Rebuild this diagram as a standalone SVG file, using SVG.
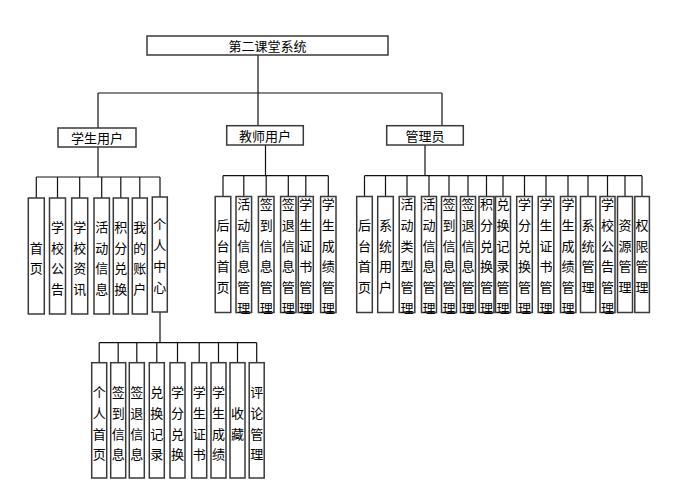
<svg xmlns="http://www.w3.org/2000/svg" width="679" height="489" viewBox="0 0 679 489">
<style>
.b{fill:#fff;stroke:#3a3a3a;stroke-width:1.5}
.t{font-family:"Noto Sans CJK SC","Liberation Sans",sans-serif;font-size:13px;fill:#000;text-anchor:middle;dominant-baseline:central}
.c path{fill:none;stroke:#111;stroke-width:1.2}
</style>
<rect width="679" height="489" fill="#fff"/>
<g class="c" id="connectors">
<path d="M258 55V126M98 93H442M98 93V128M442 93V126"/>
<path d="M98 147V177M36.3 177H160M36.3 177V198M57.5 177V198M79.7 177V198M101.7 177V198M120.8 177V198M139.8 177V198M160 177V197"/>
<path d="M265.5 145V175.7M223 175.7H328.3M223 175.7V196.5M243.8 175.7V196.5M266.2 175.7V196.5M288.3 175.7V196.5M305.8 175.7V196.5M328.3 175.7V196.5"/>
<path d="M425 145V175.7M364.5 175.7H642M364.5 175.7V196.5M385.5 175.7V196.5M407 175.7V196.5M429 175.7V196.5M449 175.7V196.5M468 175.7V196.5M486.5 175.7V196.5M503 175.7V196.5M524.5 175.7V196.5M546 175.7V196.5M568 175.7V196.5M588 175.7V196.5M607.5 175.7V196.5M625 175.7V196.5M642 175.7V196.5"/>
<path d="M160 312V342.7M99.2 342.7H256.7M99.2 342.7V362.7M118.2 342.7V362.7M136.8 342.7V362.7M156.8 342.7V362.7M177.5 342.7V362.7M199.2 342.7V362.7M218.5 342.7V362.7M237.5 342.7V362.7M256.7 342.7V362.7"/>
</g>
<g id="root"><rect class="b" x="147" y="36" width="241" height="19"/><text class="t" x="267.5" y="45.5">第二课堂系统</text></g>
<g id="student"><rect class="b" x="58" y="128" width="78" height="19"/><text class="t" x="97" y="137.5">学生用户</text></g>
<g id="teacher"><rect class="b" x="226.7" y="125.7" width="76.6" height="19.3"/><text class="t" x="265" y="135.3">教师用户</text></g>
<g id="admin"><rect class="b" x="386.7" y="125.7" width="76.6" height="19.3"/><text class="t" x="425" y="135.3">管理员</text></g>

<g id="s1"><rect class="b" x="28.3" y="198" width="16" height="116"/><text class="t"><tspan x="36.3" y="246.6">首</tspan><tspan x="36.3" y="267.4">页</tspan></text></g>
<g id="s2"><rect class="b" x="49.5" y="198" width="16" height="116"/><text class="t"><tspan x="57.5" y="225.8">学</tspan><tspan x="57.5" y="246.6">校</tspan><tspan x="57.5" y="267.4">公</tspan><tspan x="57.5" y="288.2">告</tspan></text></g>
<g id="s3"><rect class="b" x="71.7" y="198" width="16" height="116"/><text class="t"><tspan x="79.7" y="225.8">学</tspan><tspan x="79.7" y="246.6">校</tspan><tspan x="79.7" y="267.4">资</tspan><tspan x="79.7" y="288.2">讯</tspan></text></g>
<g id="s4"><rect class="b" x="94" y="198" width="15.4" height="116"/><text class="t"><tspan x="101.7" y="225.8">活</tspan><tspan x="101.7" y="246.6">动</tspan><tspan x="101.7" y="267.4">信</tspan><tspan x="101.7" y="288.2">息</tspan></text></g>
<g id="s5"><rect class="b" x="113.3" y="198" width="15" height="116"/><text class="t"><tspan x="120.8" y="225.8">积</tspan><tspan x="120.8" y="246.6">分</tspan><tspan x="120.8" y="267.4">兑</tspan><tspan x="120.8" y="288.2">换</tspan></text></g>
<g id="s6"><rect class="b" x="132.3" y="198" width="15" height="116"/><text class="t"><tspan x="139.8" y="225.8">我</tspan><tspan x="139.8" y="246.6">的</tspan><tspan x="139.8" y="267.4">账</tspan><tspan x="139.8" y="288.2">户</tspan></text></g>
<g id="s7"><rect class="b" x="152.3" y="197" width="15" height="115"/><text class="t"><tspan x="159.8" y="223.3">个</tspan><tspan x="159.8" y="244.1">人</tspan><tspan x="159.8" y="264.9">中</tspan><tspan x="159.8" y="285.7">心</tspan></text></g>

<g id="t1"><rect class="b" x="215.2" y="196.5" width="15.6" height="116"/><text class="t"><tspan x="223" y="223.8">后</tspan><tspan x="223" y="244.6">台</tspan><tspan x="223" y="265.4">首</tspan><tspan x="223" y="286.2">页</tspan></text></g>
<g id="t2"><rect class="b" x="236" y="196.5" width="15.6" height="116"/><text class="t"><tspan x="243.8" y="203">活</tspan><tspan x="243.8" y="223.8">动</tspan><tspan x="243.8" y="244.6">信</tspan><tspan x="243.8" y="265.4">息</tspan><tspan x="243.8" y="286.2">管</tspan><tspan x="243.8" y="307">理</tspan></text></g>
<g id="t3"><rect class="b" x="258.4" y="196.5" width="15.6" height="116"/><text class="t"><tspan x="266.2" y="203">签</tspan><tspan x="266.2" y="223.8">到</tspan><tspan x="266.2" y="244.6">信</tspan><tspan x="266.2" y="265.4">息</tspan><tspan x="266.2" y="286.2">管</tspan><tspan x="266.2" y="307">理</tspan></text></g>
<g id="t4"><rect class="b" x="280.6" y="196.5" width="15.4" height="116"/><text class="t"><tspan x="288.3" y="203">签</tspan><tspan x="288.3" y="223.8">退</tspan><tspan x="288.3" y="244.6">信</tspan><tspan x="288.3" y="265.4">息</tspan><tspan x="288.3" y="286.2">管</tspan><tspan x="288.3" y="307">理</tspan></text></g>
<g id="t5"><rect class="b" x="298.3" y="196.5" width="15" height="116"/><text class="t"><tspan x="305.8" y="203">学</tspan><tspan x="305.8" y="223.8">生</tspan><tspan x="305.8" y="244.6">证</tspan><tspan x="305.8" y="265.4">书</tspan><tspan x="305.8" y="286.2">管</tspan><tspan x="305.8" y="307">理</tspan></text></g>
<g id="t6"><rect class="b" x="320.6" y="196.5" width="15.4" height="116"/><text class="t"><tspan x="328.3" y="203">学</tspan><tspan x="328.3" y="223.8">生</tspan><tspan x="328.3" y="244.6">成</tspan><tspan x="328.3" y="265.4">绩</tspan><tspan x="328.3" y="286.2">管</tspan><tspan x="328.3" y="307">理</tspan></text></g>

<g id="a1"><rect class="b" x="356.7" y="196.5" width="15.6" height="116"/><text class="t"><tspan x="364.5" y="223.8">后</tspan><tspan x="364.5" y="244.6">台</tspan><tspan x="364.5" y="265.4">首</tspan><tspan x="364.5" y="286.2">页</tspan></text></g>
<g id="a2"><rect class="b" x="377.7" y="196.5" width="15.6" height="116"/><text class="t"><tspan x="385.5" y="223.8">系</tspan><tspan x="385.5" y="244.6">统</tspan><tspan x="385.5" y="265.4">用</tspan><tspan x="385.5" y="286.2">户</tspan></text></g>
<g id="a3"><rect class="b" x="399.2" y="196.5" width="15.6" height="116"/><text class="t"><tspan x="407" y="203">活</tspan><tspan x="407" y="223.8">动</tspan><tspan x="407" y="244.6">类</tspan><tspan x="407" y="265.4">型</tspan><tspan x="407" y="286.2">管</tspan><tspan x="407" y="307">理</tspan></text></g>
<g id="a4"><rect class="b" x="421.5" y="196.5" width="15" height="116"/><text class="t"><tspan x="429" y="203">活</tspan><tspan x="429" y="223.8">动</tspan><tspan x="429" y="244.6">信</tspan><tspan x="429" y="265.4">息</tspan><tspan x="429" y="286.2">管</tspan><tspan x="429" y="307">理</tspan></text></g>
<g id="a5"><rect class="b" x="441.5" y="196.5" width="15" height="116"/><text class="t"><tspan x="449" y="203">签</tspan><tspan x="449" y="223.8">到</tspan><tspan x="449" y="244.6">信</tspan><tspan x="449" y="265.4">息</tspan><tspan x="449" y="286.2">管</tspan><tspan x="449" y="307">理</tspan></text></g>
<g id="a6"><rect class="b" x="460.5" y="196.5" width="15" height="116"/><text class="t"><tspan x="468" y="203">签</tspan><tspan x="468" y="223.8">退</tspan><tspan x="468" y="244.6">信</tspan><tspan x="468" y="265.4">息</tspan><tspan x="468" y="286.2">管</tspan><tspan x="468" y="307">理</tspan></text></g>
<g id="a7"><rect class="b" x="479" y="196.5" width="15" height="116"/><text class="t"><tspan x="486.5" y="203">积</tspan><tspan x="486.5" y="223.8">分</tspan><tspan x="486.5" y="244.6">兑</tspan><tspan x="486.5" y="265.4">换</tspan><tspan x="486.5" y="286.2">管</tspan><tspan x="486.5" y="307">理</tspan></text></g>
<g id="a8"><rect class="b" x="495.5" y="196.5" width="15" height="116"/><text class="t"><tspan x="503" y="203">兑</tspan><tspan x="503" y="223.8">换</tspan><tspan x="503" y="244.6">记</tspan><tspan x="503" y="265.4">录</tspan><tspan x="503" y="286.2">管</tspan><tspan x="503" y="307">理</tspan></text></g>
<g id="a9"><rect class="b" x="516.7" y="196.5" width="15.6" height="116"/><text class="t"><tspan x="524.5" y="203">学</tspan><tspan x="524.5" y="223.8">分</tspan><tspan x="524.5" y="244.6">兑</tspan><tspan x="524.5" y="265.4">换</tspan><tspan x="524.5" y="286.2">管</tspan><tspan x="524.5" y="307">理</tspan></text></g>
<g id="a10"><rect class="b" x="538.2" y="196.5" width="15.6" height="116"/><text class="t"><tspan x="546" y="203">学</tspan><tspan x="546" y="223.8">生</tspan><tspan x="546" y="244.6">证</tspan><tspan x="546" y="265.4">书</tspan><tspan x="546" y="286.2">管</tspan><tspan x="546" y="307">理</tspan></text></g>
<g id="a11"><rect class="b" x="560.5" y="196.5" width="15.4" height="116"/><text class="t"><tspan x="568" y="203">学</tspan><tspan x="568" y="223.8">生</tspan><tspan x="568" y="244.6">成</tspan><tspan x="568" y="265.4">绩</tspan><tspan x="568" y="286.2">管</tspan><tspan x="568" y="307">理</tspan></text></g>
<g id="a12"><rect class="b" x="580.5" y="196.5" width="15.2" height="116"/><text class="t"><tspan x="588" y="223.8">系</tspan><tspan x="588" y="244.6">统</tspan><tspan x="588" y="265.4">管</tspan><tspan x="588" y="286.2">理</tspan></text></g>
<g id="a13"><rect class="b" x="600" y="196.5" width="15" height="116"/><text class="t"><tspan x="607.5" y="203">学</tspan><tspan x="607.5" y="223.8">校</tspan><tspan x="607.5" y="244.6">公</tspan><tspan x="607.5" y="265.4">告</tspan><tspan x="607.5" y="286.2">管</tspan><tspan x="607.5" y="307">理</tspan></text></g>
<g id="a14"><rect class="b" x="617.5" y="196.5" width="15" height="116"/><text class="t"><tspan x="625" y="223.8">资</tspan><tspan x="625" y="244.6">源</tspan><tspan x="625" y="265.4">管</tspan><tspan x="625" y="286.2">理</tspan></text></g>
<g id="a15"><rect class="b" x="634.8" y="196.5" width="14.6" height="116"/><text class="t"><tspan x="642" y="223.8">权</tspan><tspan x="642" y="244.6">限</tspan><tspan x="642" y="265.4">管</tspan><tspan x="642" y="286.2">理</tspan></text></g>

<g id="p1"><rect class="b" x="91.7" y="362.7" width="15" height="115.3"/><text class="t"><tspan x="99.2" y="391">个</tspan><tspan x="99.2" y="411.8">人</tspan><tspan x="99.2" y="432.6">首</tspan><tspan x="99.2" y="453.4">页</tspan></text></g>
<g id="p2"><rect class="b" x="110.7" y="362.7" width="15" height="115.3"/><text class="t"><tspan x="118.2" y="391">签</tspan><tspan x="118.2" y="411.8">到</tspan><tspan x="118.2" y="432.6">信</tspan><tspan x="118.2" y="453.4">息</tspan></text></g>
<g id="p3"><rect class="b" x="129.3" y="362.7" width="15" height="115.3"/><text class="t"><tspan x="136.8" y="391">签</tspan><tspan x="136.8" y="411.8">退</tspan><tspan x="136.8" y="432.6">信</tspan><tspan x="136.8" y="453.4">息</tspan></text></g>
<g id="p4"><rect class="b" x="149.3" y="362.7" width="15" height="115.3"/><text class="t"><tspan x="156.8" y="391">兑</tspan><tspan x="156.8" y="411.8">换</tspan><tspan x="156.8" y="432.6">记</tspan><tspan x="156.8" y="453.4">录</tspan></text></g>
<g id="p5"><rect class="b" x="170" y="362.7" width="15" height="115.3"/><text class="t"><tspan x="177.5" y="391">学</tspan><tspan x="177.5" y="411.8">分</tspan><tspan x="177.5" y="432.6">兑</tspan><tspan x="177.5" y="453.4">换</tspan></text></g>
<g id="p6"><rect class="b" x="191.7" y="362.7" width="15" height="115.3"/><text class="t"><tspan x="199.2" y="391">学</tspan><tspan x="199.2" y="411.8">生</tspan><tspan x="199.2" y="432.6">证</tspan><tspan x="199.2" y="453.4">书</tspan></text></g>
<g id="p7"><rect class="b" x="211" y="362.7" width="15" height="115.3"/><text class="t"><tspan x="218.5" y="391">学</tspan><tspan x="218.5" y="411.8">生</tspan><tspan x="218.5" y="432.6">成</tspan><tspan x="218.5" y="453.4">绩</tspan></text></g>
<g id="p8"><rect class="b" x="230" y="362.7" width="15" height="115.3"/><text class="t"><tspan x="237.5" y="411.8">收</tspan><tspan x="237.5" y="432.6">藏</tspan></text></g>
<g id="p9"><rect class="b" x="249.2" y="362.7" width="15" height="115.3"/><text class="t"><tspan x="256.7" y="391">评</tspan><tspan x="256.7" y="411.8">论</tspan><tspan x="256.7" y="432.6">管</tspan><tspan x="256.7" y="453.4">理</tspan></text></g>
</svg>
